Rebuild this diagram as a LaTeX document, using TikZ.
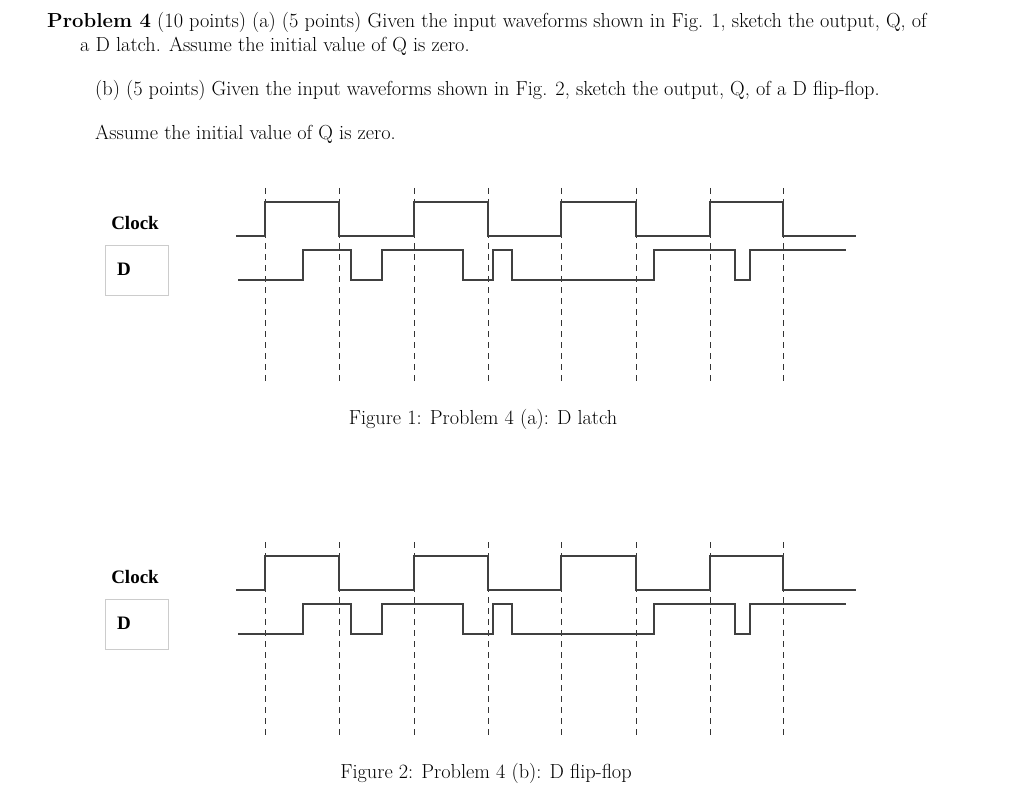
\documentclass[tikz,border=0pt]{standalone}
\usepackage{fontspec}
\newfontfamily\tnr{Liberation Serif}
\begin{document}
\begin{tikzpicture}[x=1pt,y=-1pt,
  wave/.style={line width=1.3pt,color=black!75},
  grid/.style={line width=0.8pt,dash pattern=on 6pt off 5pt,color=black!80},
  txt/.style={anchor=base west,inner sep=0pt,font=\fontsize{20.3}{24}\selectfont},
  lbl/.style={inner sep=0pt,font=\tnr\bfseries\fontsize{19}{20}\selectfont}]
\useasboundingbox (0,0) rectangle (1024,810);
\node[txt] (t1) at (47,28) {\textbf{Problem 4} (10 points) (a) (5 points) Given the input waveforms shown in Fig. 1, sketch the output, Q, of};
\node[txt] (t2) at (80,52) {a D latch. Assume the initial value of Q is zero.};
\node[txt] (t3) at (95,96) {(b) (5 points) Given the input waveforms shown in Fig. 2, sketch the output, Q, of a D flip-flop.};
\node[txt] (t4) at (95,140) {Assume the initial value of Q is zero.};
\foreach \o/\cap/\cx in {0/{Figure 1: Problem 4 (a): D latch}/483, 354/{Figure 2: Problem 4 (b): D flip-flop}/486}{
  \begin{scope}[yshift=-\o]
  \node[lbl] (clk) at (135,223) {Clock};
  \node[draw=black!20,line width=0.8pt,minimum width=63pt,minimum height=50pt,inner sep=0pt] (dbox) at (136.5,270) {};
  \node[lbl] (dl) at (124,269) {D};
  \foreach \x in {265,339,414,488,561,636,710,783}
    \draw[grid] (\x,188) -- (\x,383);
  \draw[wave] (236,236) -- (265,236) -- (265,202) -- (339,202) -- (339,236) -- (414,236) -- (414,202) -- (488,202) -- (488,236) -- (561,236) -- (561,202) -- (636,202) -- (636,236) -- (710,236) -- (710,202) -- (783,202) -- (783,236) -- (856,236);
  \draw[wave] (238,280) -- (303,280) -- (303,250) -- (351,250) -- (351,280) -- (382,280) -- (382,250) -- (463,250) -- (463,280) -- (493,280) -- (493,250) -- (512,250) -- (512,280) -- (654,280) -- (654,250) -- (735,250) -- (735,280) -- (750,280) -- (750,250) -- (846,250);
  \node[txt,anchor=base] (cap) at (\cx,424) {\cap};
  \end{scope}}
\end{tikzpicture}
\end{document}
